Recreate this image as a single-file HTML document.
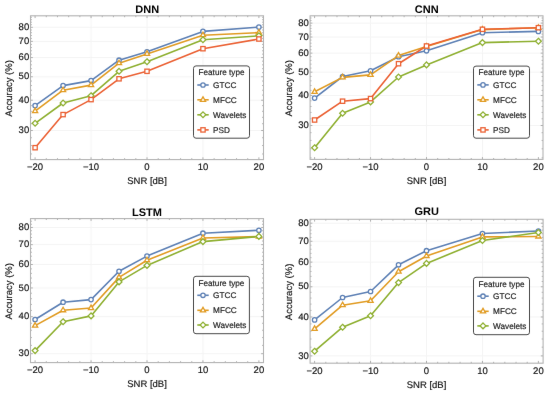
<!DOCTYPE html>
<html><head><meta charset="utf-8"><style>
html,body{margin:0;padding:0;background:#fff;}
svg{display:block;font-family:"Liberation Sans", sans-serif;text-rendering:geometricPrecision;}
text{stroke-width:0.18px;}
</style></head><body>
<svg width="550" height="397" viewBox="0 0 550 397">
<defs><filter id="bl" filterUnits="userSpaceOnUse" x="0" y="0" width="550" height="397" color-interpolation-filters="sRGB"><feConvolveMatrix order="3" kernelMatrix="0.00163 0.03713 0.00163 0.03713 0.84497 0.03713 0.00163 0.03713 0.00163" edgeMode="duplicate" preserveAlpha="false"/></filter></defs>
<rect width="550" height="397" fill="#fff"/>
<g filter="url(#bl)">
<path d="M91.05 15.8V159.6M147 15.8V159.6M202.95 15.8V159.6M30.5 130.5H263.5M30.5 100.24H263.5M30.5 76.76H263.5M30.5 57.58H263.5M30.5 41.36H263.5M30.5 27.32H263.5" stroke="#f4f4f4" stroke-width="1" fill="none"/>
<path d="M35.1 159.6v-2.3M35.1 15.8v2.3M46.29 159.6v-1.4M46.29 15.8v1.4M57.48 159.6v-1.4M57.48 15.8v1.4M68.67 159.6v-1.4M68.67 15.8v1.4M79.86 159.6v-1.4M79.86 15.8v1.4M91.05 159.6v-2.3M91.05 15.8v2.3M102.24 159.6v-1.4M102.24 15.8v1.4M113.43 159.6v-1.4M113.43 15.8v1.4M124.62 159.6v-1.4M124.62 15.8v1.4M135.81 159.6v-1.4M135.81 15.8v1.4M147 159.6v-2.3M147 15.8v2.3M158.19 159.6v-1.4M158.19 15.8v1.4M169.38 159.6v-1.4M169.38 15.8v1.4M180.57 159.6v-1.4M180.57 15.8v1.4M191.76 159.6v-1.4M191.76 15.8v1.4M202.95 159.6v-2.3M202.95 15.8v2.3M214.14 159.6v-1.4M214.14 15.8v1.4M225.33 159.6v-1.4M225.33 15.8v1.4M236.52 159.6v-1.4M236.52 15.8v1.4M247.71 159.6v-1.4M247.71 15.8v1.4M258.9 159.6v-2.3M258.9 15.8v2.3M30.5 153.97h1.4M263.5 153.97h-1.4M30.5 145.55h1.4M263.5 145.55h-1.4M30.5 137.76h1.4M263.5 137.76h-1.4M30.5 130.5h2.3M263.5 130.5h-2.3M30.5 123.71h1.4M263.5 123.71h-1.4M30.5 117.33h1.4M263.5 117.33h-1.4M30.5 111.32h1.4M263.5 111.32h-1.4M30.5 105.63h1.4M263.5 105.63h-1.4M30.5 100.24h2.3M263.5 100.24h-2.3M30.5 95.1h1.4M263.5 95.1h-1.4M30.5 90.21h1.4M263.5 90.21h-1.4M30.5 85.53h1.4M263.5 85.53h-1.4M30.5 81.06h1.4M263.5 81.06h-1.4M30.5 76.76h2.3M263.5 76.76h-2.3M30.5 72.64h1.4M263.5 72.64h-1.4M30.5 68.66h1.4M263.5 68.66h-1.4M30.5 64.84h1.4M263.5 64.84h-1.4M30.5 61.15h1.4M263.5 61.15h-1.4M30.5 57.58h2.3M263.5 57.58h-2.3M30.5 54.13h1.4M263.5 54.13h-1.4M30.5 50.79h1.4M263.5 50.79h-1.4M30.5 47.55h1.4M263.5 47.55h-1.4M30.5 44.41h1.4M263.5 44.41h-1.4M30.5 41.36h2.3M263.5 41.36h-2.3M30.5 38.4h1.4M263.5 38.4h-1.4M30.5 35.52h1.4M263.5 35.52h-1.4M30.5 32.71h1.4M263.5 32.71h-1.4M30.5 29.98h1.4M263.5 29.98h-1.4M30.5 27.32h2.3M263.5 27.32h-2.3M30.5 24.72h1.4M263.5 24.72h-1.4M30.5 22.18h1.4M263.5 22.18h-1.4M30.5 19.71h1.4M263.5 19.71h-1.4M30.5 17.29h1.4M263.5 17.29h-1.4" stroke="#9a9a9a" stroke-width="0.8" fill="none"/>
<rect x="30.5" y="15.8" width="233" height="143.8" fill="none" stroke="#b3b3b3" stroke-width="1.1"/>
<g font-size="9.5" fill="#161616" stroke="#161616"><text x="35.1" y="170.4" text-anchor="middle">−20</text><text x="91.05" y="170.4" text-anchor="middle">−10</text><text x="147" y="170.4" text-anchor="middle">0</text><text x="202.95" y="170.4" text-anchor="middle">10</text><text x="258.9" y="170.4" text-anchor="middle">20</text><text x="29.2" y="133.2" text-anchor="end">30</text><text x="29.2" y="102.94" text-anchor="end">40</text><text x="29.2" y="79.46" text-anchor="end">50</text><text x="29.2" y="60.28" text-anchor="end">60</text><text x="29.2" y="44.06" text-anchor="end">70</text><text x="29.2" y="30.02" text-anchor="end">80</text></g>
<text x="147" y="184.1" text-anchor="middle" font-size="9.5" fill="#161616" stroke="#161616">SNR [dB]</text>
<text transform="translate(12.4 88.4) rotate(-90)" text-anchor="middle" font-size="9.5" fill="#161616" stroke="#161616">Accuracy (%)</text>
<text x="147.2" y="12.9" text-anchor="middle" font-size="11" font-weight="bold" fill="#000">DNN</text>
<polyline points="35.1,105.6 63.08,85.6 91.05,80.6 119.03,60.2 147,51.8 202.95,31.4 258.9,27.1" fill="none" stroke="#5E81B5" stroke-width="1.6" stroke-linejoin="round"/>
<polyline points="35.1,111.1 63.08,90.2 91.05,85.1 119.03,63.2 147,53.9 202.95,35.2 258.9,32.6" fill="none" stroke="#E19C24" stroke-width="1.6" stroke-linejoin="round"/>
<polyline points="35.1,123.3 63.08,103 91.05,95.7 119.03,71.3 147,61.7 202.95,39.7 258.9,35.8" fill="none" stroke="#8FB032" stroke-width="1.6" stroke-linejoin="round"/>
<polyline points="35.1,147.7 63.08,114.6 91.05,99.6 119.03,78.8 147,71.3 202.95,48.7 258.9,39" fill="none" stroke="#EB6235" stroke-width="1.6" stroke-linejoin="round"/>
<circle cx="35.1" cy="105.6" r="2.2" fill="#fff" stroke="#5E81B5" stroke-width="1.3"/>
<circle cx="63.08" cy="85.6" r="2.2" fill="#fff" stroke="#5E81B5" stroke-width="1.3"/>
<circle cx="91.05" cy="80.6" r="2.2" fill="#fff" stroke="#5E81B5" stroke-width="1.3"/>
<circle cx="119.03" cy="60.2" r="2.2" fill="#fff" stroke="#5E81B5" stroke-width="1.3"/>
<circle cx="147" cy="51.8" r="2.2" fill="#fff" stroke="#5E81B5" stroke-width="1.3"/>
<circle cx="202.95" cy="31.4" r="2.2" fill="#fff" stroke="#5E81B5" stroke-width="1.3"/>
<circle cx="258.9" cy="27.1" r="2.2" fill="#fff" stroke="#5E81B5" stroke-width="1.3"/>
<path d="M35.1 108.1L37.7 112.6L32.5 112.6Z" fill="#fff" stroke="#E19C24" stroke-width="1.3" stroke-linejoin="miter"/>
<path d="M63.08 87.2L65.67 91.7L60.48 91.7Z" fill="#fff" stroke="#E19C24" stroke-width="1.3" stroke-linejoin="miter"/>
<path d="M91.05 82.1L93.65 86.6L88.45 86.6Z" fill="#fff" stroke="#E19C24" stroke-width="1.3" stroke-linejoin="miter"/>
<path d="M119.03 60.2L121.62 64.7L116.43 64.7Z" fill="#fff" stroke="#E19C24" stroke-width="1.3" stroke-linejoin="miter"/>
<path d="M147 50.9L149.6 55.4L144.4 55.4Z" fill="#fff" stroke="#E19C24" stroke-width="1.3" stroke-linejoin="miter"/>
<path d="M202.95 32.2L205.55 36.7L200.35 36.7Z" fill="#fff" stroke="#E19C24" stroke-width="1.3" stroke-linejoin="miter"/>
<path d="M258.9 29.6L261.5 34.1L256.3 34.1Z" fill="#fff" stroke="#E19C24" stroke-width="1.3" stroke-linejoin="miter"/>
<path d="M35.1 120.4L38 123.3L35.1 126.2L32.2 123.3Z" fill="#fff" stroke="#8FB032" stroke-width="1.3"/>
<path d="M63.08 100.1L65.98 103L63.08 105.9L60.18 103Z" fill="#fff" stroke="#8FB032" stroke-width="1.3"/>
<path d="M91.05 92.8L93.95 95.7L91.05 98.6L88.15 95.7Z" fill="#fff" stroke="#8FB032" stroke-width="1.3"/>
<path d="M119.03 68.4L121.93 71.3L119.03 74.2L116.12 71.3Z" fill="#fff" stroke="#8FB032" stroke-width="1.3"/>
<path d="M147 58.8L149.9 61.7L147 64.6L144.1 61.7Z" fill="#fff" stroke="#8FB032" stroke-width="1.3"/>
<path d="M202.95 36.8L205.85 39.7L202.95 42.6L200.05 39.7Z" fill="#fff" stroke="#8FB032" stroke-width="1.3"/>
<path d="M258.9 32.9L261.8 35.8L258.9 38.7L256 35.8Z" fill="#fff" stroke="#8FB032" stroke-width="1.3"/>
<rect x="32.95" y="145.55" width="4.3" height="4.3" fill="#fff" stroke="#EB6235" stroke-width="1.3"/>
<rect x="60.93" y="112.45" width="4.3" height="4.3" fill="#fff" stroke="#EB6235" stroke-width="1.3"/>
<rect x="88.9" y="97.45" width="4.3" height="4.3" fill="#fff" stroke="#EB6235" stroke-width="1.3"/>
<rect x="116.88" y="76.65" width="4.3" height="4.3" fill="#fff" stroke="#EB6235" stroke-width="1.3"/>
<rect x="144.85" y="69.15" width="4.3" height="4.3" fill="#fff" stroke="#EB6235" stroke-width="1.3"/>
<rect x="200.8" y="46.55" width="4.3" height="4.3" fill="#fff" stroke="#EB6235" stroke-width="1.3"/>
<rect x="256.75" y="36.85" width="4.3" height="4.3" fill="#fff" stroke="#EB6235" stroke-width="1.3"/>
<rect x="193.5" y="65.9" width="56" height="72.3" rx="2.5" ry="2.5" fill="#fff" stroke="#4a4a4a" stroke-width="1"/>
<text x="221.5" y="74.9" text-anchor="middle" font-size="8.2" fill="#222" stroke="#222">Feature type</text>
<path d="M197.3 85H208.7" stroke="#5E81B5" stroke-width="1.6"/>
<circle cx="203" cy="85" r="2.2" fill="#fff" stroke="#5E81B5" stroke-width="1.3"/>
<text x="213.1" y="87.9" font-size="8.2" fill="#222" stroke="#222">GTCC</text>
<path d="M197.3 99.8H208.7" stroke="#E19C24" stroke-width="1.6"/>
<path d="M203 96.8L205.6 101.3L200.4 101.3Z" fill="#fff" stroke="#E19C24" stroke-width="1.3" stroke-linejoin="miter"/>
<text x="213.1" y="102.7" font-size="8.2" fill="#222" stroke="#222">MFCC</text>
<path d="M197.3 114.8H208.7" stroke="#8FB032" stroke-width="1.6"/>
<path d="M203 111.9L205.9 114.8L203 117.7L200.1 114.8Z" fill="#fff" stroke="#8FB032" stroke-width="1.3"/>
<text x="213.1" y="117.7" font-size="8.2" fill="#222" stroke="#222">Wavelets</text>
<path d="M197.3 129.9H208.7" stroke="#EB6235" stroke-width="1.6"/>
<rect x="200.85" y="127.75" width="4.3" height="4.3" fill="#fff" stroke="#EB6235" stroke-width="1.3"/>
<text x="213.1" y="132.8" font-size="8.2" fill="#222" stroke="#222">PSD</text>
<path d="M370.55 15.8V159.4M426.5 15.8V159.4M482.45 15.8V159.4M310.1 125.5H543M310.1 95.47H543M310.1 72.17H543M310.1 53.14H543M310.1 37.04H543M310.1 23.1H543" stroke="#f4f4f4" stroke-width="1" fill="none"/>
<path d="M314.6 159.4v-2.3M314.6 15.8v2.3M325.79 159.4v-1.4M325.79 15.8v1.4M336.98 159.4v-1.4M336.98 15.8v1.4M348.17 159.4v-1.4M348.17 15.8v1.4M359.36 159.4v-1.4M359.36 15.8v1.4M370.55 159.4v-2.3M370.55 15.8v2.3M381.74 159.4v-1.4M381.74 15.8v1.4M392.93 159.4v-1.4M392.93 15.8v1.4M404.12 159.4v-1.4M404.12 15.8v1.4M415.31 159.4v-1.4M415.31 15.8v1.4M426.5 159.4v-2.3M426.5 15.8v2.3M437.69 159.4v-1.4M437.69 15.8v1.4M448.88 159.4v-1.4M448.88 15.8v1.4M460.07 159.4v-1.4M460.07 15.8v1.4M471.26 159.4v-1.4M471.26 15.8v1.4M482.45 159.4v-2.3M482.45 15.8v2.3M493.64 159.4v-1.4M493.64 15.8v1.4M504.83 159.4v-1.4M504.83 15.8v1.4M516.02 159.4v-1.4M516.02 15.8v1.4M527.21 159.4v-1.4M527.21 15.8v1.4M538.4 159.4v-2.3M538.4 15.8v2.3M310.1 157.88h1.4M543 157.88h-1.4M310.1 148.8h1.4M543 148.8h-1.4M310.1 140.44h1.4M543 140.44h-1.4M310.1 132.7h1.4M543 132.7h-1.4M310.1 125.5h2.3M543 125.5h-2.3M310.1 118.76h1.4M543 118.76h-1.4M310.1 112.43h1.4M543 112.43h-1.4M310.1 106.47h1.4M543 106.47h-1.4M310.1 100.82h1.4M543 100.82h-1.4M310.1 95.47h2.3M543 95.47h-2.3M310.1 90.37h1.4M543 90.37h-1.4M310.1 85.52h1.4M543 85.52h-1.4M310.1 80.87h1.4M543 80.87h-1.4M310.1 76.43h1.4M543 76.43h-1.4M310.1 72.17h2.3M543 72.17h-2.3M310.1 68.08h1.4M543 68.08h-1.4M310.1 64.14h1.4M543 64.14h-1.4M310.1 60.34h1.4M543 60.34h-1.4M310.1 56.67h1.4M543 56.67h-1.4M310.1 53.14h2.3M543 53.14h-2.3M310.1 49.71h1.4M543 49.71h-1.4M310.1 46.4h1.4M543 46.4h-1.4M310.1 43.19h1.4M543 43.19h-1.4M310.1 40.07h1.4M543 40.07h-1.4M310.1 37.04h2.3M543 37.04h-2.3M310.1 34.1h1.4M543 34.1h-1.4M310.1 31.24h1.4M543 31.24h-1.4M310.1 28.46h1.4M543 28.46h-1.4M310.1 25.74h1.4M543 25.74h-1.4M310.1 23.1h2.3M543 23.1h-2.3M310.1 20.52h1.4M543 20.52h-1.4M310.1 18.01h1.4M543 18.01h-1.4" stroke="#9a9a9a" stroke-width="0.8" fill="none"/>
<rect x="310.1" y="15.8" width="232.9" height="143.6" fill="none" stroke="#b3b3b3" stroke-width="1.1"/>
<g font-size="9.5" fill="#161616" stroke="#161616"><text x="314.6" y="170.2" text-anchor="middle">−20</text><text x="370.55" y="170.2" text-anchor="middle">−10</text><text x="426.5" y="170.2" text-anchor="middle">0</text><text x="482.45" y="170.2" text-anchor="middle">10</text><text x="538.4" y="170.2" text-anchor="middle">20</text><text x="308.8" y="128.2" text-anchor="end">30</text><text x="308.8" y="98.17" text-anchor="end">40</text><text x="308.8" y="74.87" text-anchor="end">50</text><text x="308.8" y="55.84" text-anchor="end">60</text><text x="308.8" y="39.74" text-anchor="end">70</text><text x="308.8" y="25.8" text-anchor="end">80</text></g>
<text x="426.5" y="183.9" text-anchor="middle" font-size="9.5" fill="#161616" stroke="#161616">SNR [dB]</text>
<text transform="translate(292.2 88.3) rotate(-90)" text-anchor="middle" font-size="9.5" fill="#161616" stroke="#161616">Accuracy (%)</text>
<text x="426.7" y="12.9" text-anchor="middle" font-size="11" font-weight="bold" fill="#000">CNN</text>
<polyline points="314.6,98.1 342.58,76.5 370.55,70.8 398.53,56.7 426.5,50.8 482.45,32.7 538.4,31.4" fill="none" stroke="#5E81B5" stroke-width="1.6" stroke-linejoin="round"/>
<polyline points="314.6,91.8 342.58,77.4 370.55,74.9 398.53,55.6 426.5,46.6 482.45,29.6 538.4,27.8" fill="none" stroke="#E19C24" stroke-width="1.6" stroke-linejoin="round"/>
<polyline points="314.6,147.7 342.58,113.3 370.55,101.9 398.53,77 426.5,64.9 482.45,42.6 538.4,41.2" fill="none" stroke="#8FB032" stroke-width="1.6" stroke-linejoin="round"/>
<polyline points="314.6,120 342.58,101.2 370.55,98.6 398.53,63.7 426.5,46 482.45,29.3 538.4,27.7" fill="none" stroke="#EB6235" stroke-width="1.6" stroke-linejoin="round"/>
<circle cx="314.6" cy="98.1" r="2.2" fill="#fff" stroke="#5E81B5" stroke-width="1.3"/>
<circle cx="342.58" cy="76.5" r="2.2" fill="#fff" stroke="#5E81B5" stroke-width="1.3"/>
<circle cx="370.55" cy="70.8" r="2.2" fill="#fff" stroke="#5E81B5" stroke-width="1.3"/>
<circle cx="398.53" cy="56.7" r="2.2" fill="#fff" stroke="#5E81B5" stroke-width="1.3"/>
<circle cx="426.5" cy="50.8" r="2.2" fill="#fff" stroke="#5E81B5" stroke-width="1.3"/>
<circle cx="482.45" cy="32.7" r="2.2" fill="#fff" stroke="#5E81B5" stroke-width="1.3"/>
<circle cx="538.4" cy="31.4" r="2.2" fill="#fff" stroke="#5E81B5" stroke-width="1.3"/>
<path d="M314.6 88.8L317.2 93.3L312 93.3Z" fill="#fff" stroke="#E19C24" stroke-width="1.3" stroke-linejoin="miter"/>
<path d="M342.58 74.4L345.18 78.9L339.98 78.9Z" fill="#fff" stroke="#E19C24" stroke-width="1.3" stroke-linejoin="miter"/>
<path d="M370.55 71.9L373.15 76.4L367.95 76.4Z" fill="#fff" stroke="#E19C24" stroke-width="1.3" stroke-linejoin="miter"/>
<path d="M398.53 52.6L401.13 57.1L395.93 57.1Z" fill="#fff" stroke="#E19C24" stroke-width="1.3" stroke-linejoin="miter"/>
<path d="M426.5 43.6L429.1 48.1L423.9 48.1Z" fill="#fff" stroke="#E19C24" stroke-width="1.3" stroke-linejoin="miter"/>
<path d="M482.45 26.6L485.05 31.1L479.85 31.1Z" fill="#fff" stroke="#E19C24" stroke-width="1.3" stroke-linejoin="miter"/>
<path d="M538.4 24.8L541 29.3L535.8 29.3Z" fill="#fff" stroke="#E19C24" stroke-width="1.3" stroke-linejoin="miter"/>
<path d="M314.6 144.8L317.5 147.7L314.6 150.6L311.7 147.7Z" fill="#fff" stroke="#8FB032" stroke-width="1.3"/>
<path d="M342.58 110.4L345.48 113.3L342.58 116.2L339.68 113.3Z" fill="#fff" stroke="#8FB032" stroke-width="1.3"/>
<path d="M370.55 99L373.45 101.9L370.55 104.8L367.65 101.9Z" fill="#fff" stroke="#8FB032" stroke-width="1.3"/>
<path d="M398.53 74.1L401.43 77L398.53 79.9L395.63 77Z" fill="#fff" stroke="#8FB032" stroke-width="1.3"/>
<path d="M426.5 62L429.4 64.9L426.5 67.8L423.6 64.9Z" fill="#fff" stroke="#8FB032" stroke-width="1.3"/>
<path d="M482.45 39.7L485.35 42.6L482.45 45.5L479.55 42.6Z" fill="#fff" stroke="#8FB032" stroke-width="1.3"/>
<path d="M538.4 38.3L541.3 41.2L538.4 44.1L535.5 41.2Z" fill="#fff" stroke="#8FB032" stroke-width="1.3"/>
<rect x="312.45" y="117.85" width="4.3" height="4.3" fill="#fff" stroke="#EB6235" stroke-width="1.3"/>
<rect x="340.43" y="99.05" width="4.3" height="4.3" fill="#fff" stroke="#EB6235" stroke-width="1.3"/>
<rect x="368.4" y="96.45" width="4.3" height="4.3" fill="#fff" stroke="#EB6235" stroke-width="1.3"/>
<rect x="396.38" y="61.55" width="4.3" height="4.3" fill="#fff" stroke="#EB6235" stroke-width="1.3"/>
<rect x="424.35" y="43.85" width="4.3" height="4.3" fill="#fff" stroke="#EB6235" stroke-width="1.3"/>
<rect x="480.3" y="27.15" width="4.3" height="4.3" fill="#fff" stroke="#EB6235" stroke-width="1.3"/>
<rect x="536.25" y="25.55" width="4.3" height="4.3" fill="#fff" stroke="#EB6235" stroke-width="1.3"/>
<rect x="473.5" y="66.1" width="56" height="72.1" rx="2.5" ry="2.5" fill="#fff" stroke="#4a4a4a" stroke-width="1"/>
<text x="501.5" y="74.9" text-anchor="middle" font-size="8.2" fill="#222" stroke="#222">Feature type</text>
<path d="M477.3 84.9H488.7" stroke="#5E81B5" stroke-width="1.6"/>
<circle cx="483" cy="84.9" r="2.2" fill="#fff" stroke="#5E81B5" stroke-width="1.3"/>
<text x="493.1" y="87.8" font-size="8.2" fill="#222" stroke="#222">GTCC</text>
<path d="M477.3 99.8H488.7" stroke="#E19C24" stroke-width="1.6"/>
<path d="M483 96.8L485.6 101.3L480.4 101.3Z" fill="#fff" stroke="#E19C24" stroke-width="1.3" stroke-linejoin="miter"/>
<text x="493.1" y="102.7" font-size="8.2" fill="#222" stroke="#222">MFCC</text>
<path d="M477.3 114.8H488.7" stroke="#8FB032" stroke-width="1.6"/>
<path d="M483 111.9L485.9 114.8L483 117.7L480.1 114.8Z" fill="#fff" stroke="#8FB032" stroke-width="1.3"/>
<text x="493.1" y="117.7" font-size="8.2" fill="#222" stroke="#222">Wavelets</text>
<path d="M477.3 129.9H488.7" stroke="#EB6235" stroke-width="1.6"/>
<rect x="480.85" y="127.75" width="4.3" height="4.3" fill="#fff" stroke="#EB6235" stroke-width="1.3"/>
<text x="493.1" y="132.8" font-size="8.2" fill="#222" stroke="#222">PSD</text>
<path d="M91.05 218.6V362.6M147 218.6V362.6M202.95 218.6V362.6M30.5 353.7H263.5M30.5 316.68H263.5M30.5 287.96H263.5M30.5 264.49H263.5M30.5 244.65H263.5M30.5 227.47H263.5" stroke="#f4f4f4" stroke-width="1" fill="none"/>
<path d="M35.1 362.6v-2.3M35.1 218.6v2.3M46.29 362.6v-1.4M46.29 218.6v1.4M57.48 362.6v-1.4M57.48 218.6v1.4M68.67 362.6v-1.4M68.67 218.6v1.4M79.86 362.6v-1.4M79.86 218.6v1.4M91.05 362.6v-2.3M91.05 218.6v2.3M102.24 362.6v-1.4M102.24 218.6v1.4M113.43 362.6v-1.4M113.43 218.6v1.4M124.62 362.6v-1.4M124.62 218.6v1.4M135.81 362.6v-1.4M135.81 218.6v1.4M147 362.6v-2.3M147 218.6v2.3M158.19 362.6v-1.4M158.19 218.6v1.4M169.38 362.6v-1.4M169.38 218.6v1.4M180.57 362.6v-1.4M180.57 218.6v1.4M191.76 362.6v-1.4M191.76 218.6v1.4M202.95 362.6v-2.3M202.95 218.6v2.3M214.14 362.6v-1.4M214.14 218.6v1.4M225.33 362.6v-1.4M225.33 218.6v1.4M236.52 362.6v-1.4M236.52 218.6v1.4M247.71 362.6v-1.4M247.71 218.6v1.4M258.9 362.6v-2.3M258.9 218.6v2.3M30.5 353.7h2.3M263.5 353.7h-2.3M30.5 345.39h1.4M263.5 345.39h-1.4M30.5 337.59h1.4M263.5 337.59h-1.4M30.5 330.24h1.4M263.5 330.24h-1.4M30.5 323.28h1.4M263.5 323.28h-1.4M30.5 316.68h2.3M263.5 316.68h-2.3M30.5 310.4h1.4M263.5 310.4h-1.4M30.5 304.41h1.4M263.5 304.41h-1.4M30.5 298.69h1.4M263.5 298.69h-1.4M30.5 293.21h1.4M263.5 293.21h-1.4M30.5 287.96h2.3M263.5 287.96h-2.3M30.5 282.91h1.4M263.5 282.91h-1.4M30.5 278.05h1.4M263.5 278.05h-1.4M30.5 273.37h1.4M263.5 273.37h-1.4M30.5 268.86h1.4M263.5 268.86h-1.4M30.5 264.49h2.3M263.5 264.49h-2.3M30.5 260.27h1.4M263.5 260.27h-1.4M30.5 256.19h1.4M263.5 256.19h-1.4M30.5 252.23h1.4M263.5 252.23h-1.4M30.5 248.38h1.4M263.5 248.38h-1.4M30.5 244.65h2.3M263.5 244.65h-2.3M30.5 241.03h1.4M263.5 241.03h-1.4M30.5 237.5h1.4M263.5 237.5h-1.4M30.5 234.07h1.4M263.5 234.07h-1.4M30.5 230.73h1.4M263.5 230.73h-1.4M30.5 227.47h2.3M263.5 227.47h-2.3M30.5 224.29h1.4M263.5 224.29h-1.4M30.5 221.19h1.4M263.5 221.19h-1.4" stroke="#9a9a9a" stroke-width="0.8" fill="none"/>
<rect x="30.5" y="218.6" width="233" height="144" fill="none" stroke="#b3b3b3" stroke-width="1.1"/>
<g font-size="9.5" fill="#161616" stroke="#161616"><text x="35.1" y="373.4" text-anchor="middle">−20</text><text x="91.05" y="373.4" text-anchor="middle">−10</text><text x="147" y="373.4" text-anchor="middle">0</text><text x="202.95" y="373.4" text-anchor="middle">10</text><text x="258.9" y="373.4" text-anchor="middle">20</text><text x="29.2" y="356.4" text-anchor="end">30</text><text x="29.2" y="319.38" text-anchor="end">40</text><text x="29.2" y="290.66" text-anchor="end">50</text><text x="29.2" y="267.19" text-anchor="end">60</text><text x="29.2" y="247.35" text-anchor="end">70</text><text x="29.2" y="230.17" text-anchor="end">80</text></g>
<text x="147" y="387.1" text-anchor="middle" font-size="9.5" fill="#161616" stroke="#161616">SNR [dB]</text>
<text transform="translate(12.4 291.3) rotate(-90)" text-anchor="middle" font-size="9.5" fill="#161616" stroke="#161616">Accuracy (%)</text>
<text x="147" y="216.1" text-anchor="middle" font-size="11" font-weight="bold" fill="#000">LSTM</text>
<polyline points="35.1,319.5 63.08,302.2 91.05,299.6 119.03,271.3 147,256.1 202.95,233.2 258.9,230.3" fill="none" stroke="#5E81B5" stroke-width="1.6" stroke-linejoin="round"/>
<polyline points="35.1,325.65 63.08,310.25 91.05,308.05 119.03,277.35 147,260.25 202.95,237.95 258.9,236.55" fill="none" stroke="#E19C24" stroke-width="1.6" stroke-linejoin="round"/>
<polyline points="35.1,350.6 63.08,321.7 91.05,315.9 119.03,281.9 147,265.4 202.95,241.6 258.9,236.4" fill="none" stroke="#8FB032" stroke-width="1.6" stroke-linejoin="round"/>
<circle cx="35.1" cy="319.5" r="2.2" fill="#fff" stroke="#5E81B5" stroke-width="1.3"/>
<circle cx="63.08" cy="302.2" r="2.2" fill="#fff" stroke="#5E81B5" stroke-width="1.3"/>
<circle cx="91.05" cy="299.6" r="2.2" fill="#fff" stroke="#5E81B5" stroke-width="1.3"/>
<circle cx="119.03" cy="271.3" r="2.2" fill="#fff" stroke="#5E81B5" stroke-width="1.3"/>
<circle cx="147" cy="256.1" r="2.2" fill="#fff" stroke="#5E81B5" stroke-width="1.3"/>
<circle cx="202.95" cy="233.2" r="2.2" fill="#fff" stroke="#5E81B5" stroke-width="1.3"/>
<circle cx="258.9" cy="230.3" r="2.2" fill="#fff" stroke="#5E81B5" stroke-width="1.3"/>
<path d="M35.1 322.65L37.7 327.15L32.5 327.15Z" fill="#fff" stroke="#E19C24" stroke-width="1.3" stroke-linejoin="miter"/>
<path d="M63.08 307.25L65.67 311.75L60.48 311.75Z" fill="#fff" stroke="#E19C24" stroke-width="1.3" stroke-linejoin="miter"/>
<path d="M91.05 305.05L93.65 309.55L88.45 309.55Z" fill="#fff" stroke="#E19C24" stroke-width="1.3" stroke-linejoin="miter"/>
<path d="M119.03 274.35L121.62 278.85L116.43 278.85Z" fill="#fff" stroke="#E19C24" stroke-width="1.3" stroke-linejoin="miter"/>
<path d="M147 257.25L149.6 261.75L144.4 261.75Z" fill="#fff" stroke="#E19C24" stroke-width="1.3" stroke-linejoin="miter"/>
<path d="M202.95 234.95L205.55 239.45L200.35 239.45Z" fill="#fff" stroke="#E19C24" stroke-width="1.3" stroke-linejoin="miter"/>
<path d="M258.9 233.55L261.5 238.05L256.3 238.05Z" fill="#fff" stroke="#E19C24" stroke-width="1.3" stroke-linejoin="miter"/>
<path d="M35.1 347.7L38 350.6L35.1 353.5L32.2 350.6Z" fill="#fff" stroke="#8FB032" stroke-width="1.3"/>
<path d="M63.08 318.8L65.98 321.7L63.08 324.6L60.18 321.7Z" fill="#fff" stroke="#8FB032" stroke-width="1.3"/>
<path d="M91.05 313L93.95 315.9L91.05 318.8L88.15 315.9Z" fill="#fff" stroke="#8FB032" stroke-width="1.3"/>
<path d="M119.03 279L121.93 281.9L119.03 284.8L116.12 281.9Z" fill="#fff" stroke="#8FB032" stroke-width="1.3"/>
<path d="M147 262.5L149.9 265.4L147 268.3L144.1 265.4Z" fill="#fff" stroke="#8FB032" stroke-width="1.3"/>
<path d="M202.95 238.7L205.85 241.6L202.95 244.5L200.05 241.6Z" fill="#fff" stroke="#8FB032" stroke-width="1.3"/>
<path d="M258.9 233.5L261.8 236.4L258.9 239.3L256 236.4Z" fill="#fff" stroke="#8FB032" stroke-width="1.3"/>
<rect x="193.5" y="276.3" width="55.9" height="57.4" rx="2.5" ry="2.5" fill="#fff" stroke="#4a4a4a" stroke-width="1"/>
<text x="221.45" y="286.2" text-anchor="middle" font-size="8.2" fill="#222" stroke="#222">Feature type</text>
<path d="M197.3 295.3H208.7" stroke="#5E81B5" stroke-width="1.6"/>
<circle cx="203" cy="295.3" r="2.2" fill="#fff" stroke="#5E81B5" stroke-width="1.3"/>
<text x="213.1" y="298.2" font-size="8.2" fill="#222" stroke="#222">GTCC</text>
<path d="M197.3 310.3H208.7" stroke="#E19C24" stroke-width="1.6"/>
<path d="M203 307.3L205.6 311.8L200.4 311.8Z" fill="#fff" stroke="#E19C24" stroke-width="1.3" stroke-linejoin="miter"/>
<text x="213.1" y="313.2" font-size="8.2" fill="#222" stroke="#222">MFCC</text>
<path d="M197.3 325H208.7" stroke="#8FB032" stroke-width="1.6"/>
<path d="M203 322.1L205.9 325L203 327.9L200.1 325Z" fill="#fff" stroke="#8FB032" stroke-width="1.3"/>
<text x="213.1" y="327.9" font-size="8.2" fill="#222" stroke="#222">Wavelets</text>
<path d="M370.55 219.3V363.2M426.5 219.3V363.2M482.45 219.3V363.2M310.1 355.9H543.1M310.1 316.98H543.1M310.1 286.79H543.1M310.1 262.12H543.1M310.1 241.26H543.1M310.1 223.19H543.1" stroke="#f4f4f4" stroke-width="1" fill="none"/>
<path d="M314.6 363.2v-2.3M314.6 219.3v2.3M325.79 363.2v-1.4M325.79 219.3v1.4M336.98 363.2v-1.4M336.98 219.3v1.4M348.17 363.2v-1.4M348.17 219.3v1.4M359.36 363.2v-1.4M359.36 219.3v1.4M370.55 363.2v-2.3M370.55 219.3v2.3M381.74 363.2v-1.4M381.74 219.3v1.4M392.93 363.2v-1.4M392.93 219.3v1.4M404.12 363.2v-1.4M404.12 219.3v1.4M415.31 363.2v-1.4M415.31 219.3v1.4M426.5 363.2v-2.3M426.5 219.3v2.3M437.69 363.2v-1.4M437.69 219.3v1.4M448.88 363.2v-1.4M448.88 219.3v1.4M460.07 363.2v-1.4M460.07 219.3v1.4M471.26 363.2v-1.4M471.26 219.3v1.4M482.45 363.2v-2.3M482.45 219.3v2.3M493.64 363.2v-1.4M493.64 219.3v1.4M504.83 363.2v-1.4M504.83 219.3v1.4M516.02 363.2v-1.4M516.02 219.3v1.4M527.21 363.2v-1.4M527.21 219.3v1.4M538.4 363.2v-2.3M538.4 219.3v2.3M310.1 355.9h2.3M543.1 355.9h-2.3M310.1 347.17h1.4M543.1 347.17h-1.4M310.1 338.97h1.4M543.1 338.97h-1.4M310.1 331.23h1.4M543.1 331.23h-1.4M310.1 323.92h1.4M543.1 323.92h-1.4M310.1 316.98h2.3M543.1 316.98h-2.3M310.1 310.38h1.4M543.1 310.38h-1.4M310.1 304.08h1.4M543.1 304.08h-1.4M310.1 298.07h1.4M543.1 298.07h-1.4M310.1 292.31h1.4M543.1 292.31h-1.4M310.1 286.79h2.3M543.1 286.79h-2.3M310.1 281.48h1.4M543.1 281.48h-1.4M310.1 276.37h1.4M543.1 276.37h-1.4M310.1 271.45h1.4M543.1 271.45h-1.4M310.1 266.7h1.4M543.1 266.7h-1.4M310.1 262.12h2.3M543.1 262.12h-2.3M310.1 257.68h1.4M543.1 257.68h-1.4M310.1 253.39h1.4M543.1 253.39h-1.4M310.1 249.22h1.4M543.1 249.22h-1.4M310.1 245.18h1.4M543.1 245.18h-1.4M310.1 241.26h2.3M543.1 241.26h-2.3M310.1 237.45h1.4M543.1 237.45h-1.4M310.1 233.74h1.4M543.1 233.74h-1.4M310.1 230.13h1.4M543.1 230.13h-1.4M310.1 226.62h1.4M543.1 226.62h-1.4M310.1 223.19h2.3M543.1 223.19h-2.3M310.1 219.85h1.4M543.1 219.85h-1.4" stroke="#9a9a9a" stroke-width="0.8" fill="none"/>
<rect x="310.1" y="219.3" width="233" height="143.9" fill="none" stroke="#b3b3b3" stroke-width="1.1"/>
<g font-size="9.5" fill="#161616" stroke="#161616"><text x="314.6" y="374" text-anchor="middle">−20</text><text x="370.55" y="374" text-anchor="middle">−10</text><text x="426.5" y="374" text-anchor="middle">0</text><text x="482.45" y="374" text-anchor="middle">10</text><text x="538.4" y="374" text-anchor="middle">20</text><text x="308.8" y="358.6" text-anchor="end">30</text><text x="308.8" y="319.68" text-anchor="end">40</text><text x="308.8" y="289.49" text-anchor="end">50</text><text x="308.8" y="264.82" text-anchor="end">60</text><text x="308.8" y="243.96" text-anchor="end">70</text><text x="308.8" y="225.89" text-anchor="end">80</text></g>
<text x="426.5" y="387.7" text-anchor="middle" font-size="9.5" fill="#161616" stroke="#161616">SNR [dB]</text>
<text transform="translate(292.2 291.95) rotate(-90)" text-anchor="middle" font-size="9.5" fill="#161616" stroke="#161616">Accuracy (%)</text>
<text x="426.7" y="215.4" text-anchor="middle" font-size="11" font-weight="bold" fill="#000">GRU</text>
<polyline points="314.6,319.9 342.58,297.5 370.55,291.5 398.53,264.8 426.5,250.7 482.45,233.5 538.4,231" fill="none" stroke="#5E81B5" stroke-width="1.6" stroke-linejoin="round"/>
<polyline points="314.6,328.8 342.58,305.2 370.55,300.8 398.53,271.7 426.5,256 482.45,236.9 538.4,236.5" fill="none" stroke="#E19C24" stroke-width="1.6" stroke-linejoin="round"/>
<polyline points="314.6,351.2 342.58,327.2 370.55,315.7 398.53,282.6 426.5,263.4 482.45,240.5 538.4,232.5" fill="none" stroke="#8FB032" stroke-width="1.6" stroke-linejoin="round"/>
<circle cx="314.6" cy="319.9" r="2.2" fill="#fff" stroke="#5E81B5" stroke-width="1.3"/>
<circle cx="342.58" cy="297.5" r="2.2" fill="#fff" stroke="#5E81B5" stroke-width="1.3"/>
<circle cx="370.55" cy="291.5" r="2.2" fill="#fff" stroke="#5E81B5" stroke-width="1.3"/>
<circle cx="398.53" cy="264.8" r="2.2" fill="#fff" stroke="#5E81B5" stroke-width="1.3"/>
<circle cx="426.5" cy="250.7" r="2.2" fill="#fff" stroke="#5E81B5" stroke-width="1.3"/>
<circle cx="482.45" cy="233.5" r="2.2" fill="#fff" stroke="#5E81B5" stroke-width="1.3"/>
<circle cx="538.4" cy="231" r="2.2" fill="#fff" stroke="#5E81B5" stroke-width="1.3"/>
<path d="M314.6 325.8L317.2 330.3L312 330.3Z" fill="#fff" stroke="#E19C24" stroke-width="1.3" stroke-linejoin="miter"/>
<path d="M342.58 302.2L345.18 306.7L339.98 306.7Z" fill="#fff" stroke="#E19C24" stroke-width="1.3" stroke-linejoin="miter"/>
<path d="M370.55 297.8L373.15 302.3L367.95 302.3Z" fill="#fff" stroke="#E19C24" stroke-width="1.3" stroke-linejoin="miter"/>
<path d="M398.53 268.7L401.13 273.2L395.93 273.2Z" fill="#fff" stroke="#E19C24" stroke-width="1.3" stroke-linejoin="miter"/>
<path d="M426.5 253L429.1 257.5L423.9 257.5Z" fill="#fff" stroke="#E19C24" stroke-width="1.3" stroke-linejoin="miter"/>
<path d="M482.45 233.9L485.05 238.4L479.85 238.4Z" fill="#fff" stroke="#E19C24" stroke-width="1.3" stroke-linejoin="miter"/>
<path d="M538.4 233.5L541 238L535.8 238Z" fill="#fff" stroke="#E19C24" stroke-width="1.3" stroke-linejoin="miter"/>
<path d="M314.6 348.3L317.5 351.2L314.6 354.1L311.7 351.2Z" fill="#fff" stroke="#8FB032" stroke-width="1.3"/>
<path d="M342.58 324.3L345.48 327.2L342.58 330.1L339.68 327.2Z" fill="#fff" stroke="#8FB032" stroke-width="1.3"/>
<path d="M370.55 312.8L373.45 315.7L370.55 318.6L367.65 315.7Z" fill="#fff" stroke="#8FB032" stroke-width="1.3"/>
<path d="M398.53 279.7L401.43 282.6L398.53 285.5L395.63 282.6Z" fill="#fff" stroke="#8FB032" stroke-width="1.3"/>
<path d="M426.5 260.5L429.4 263.4L426.5 266.3L423.6 263.4Z" fill="#fff" stroke="#8FB032" stroke-width="1.3"/>
<path d="M482.45 237.6L485.35 240.5L482.45 243.4L479.55 240.5Z" fill="#fff" stroke="#8FB032" stroke-width="1.3"/>
<path d="M538.4 229.6L541.3 232.5L538.4 235.4L535.5 232.5Z" fill="#fff" stroke="#8FB032" stroke-width="1.3"/>
<rect x="473.5" y="277.3" width="56" height="57.4" rx="2.5" ry="2.5" fill="#fff" stroke="#4a4a4a" stroke-width="1"/>
<text x="501.5" y="286.8" text-anchor="middle" font-size="8.2" fill="#222" stroke="#222">Feature type</text>
<path d="M477.3 296.2H488.7" stroke="#5E81B5" stroke-width="1.6"/>
<circle cx="483" cy="296.2" r="2.2" fill="#fff" stroke="#5E81B5" stroke-width="1.3"/>
<text x="493.1" y="299.1" font-size="8.2" fill="#222" stroke="#222">GTCC</text>
<path d="M477.3 311.3H488.7" stroke="#E19C24" stroke-width="1.6"/>
<path d="M483 308.3L485.6 312.8L480.4 312.8Z" fill="#fff" stroke="#E19C24" stroke-width="1.3" stroke-linejoin="miter"/>
<text x="493.1" y="314.2" font-size="8.2" fill="#222" stroke="#222">MFCC</text>
<path d="M477.3 325.9H488.7" stroke="#8FB032" stroke-width="1.6"/>
<path d="M483 323L485.9 325.9L483 328.8L480.1 325.9Z" fill="#fff" stroke="#8FB032" stroke-width="1.3"/>
<text x="493.1" y="328.8" font-size="8.2" fill="#222" stroke="#222">Wavelets</text>
</g>
</svg>
</body></html>
